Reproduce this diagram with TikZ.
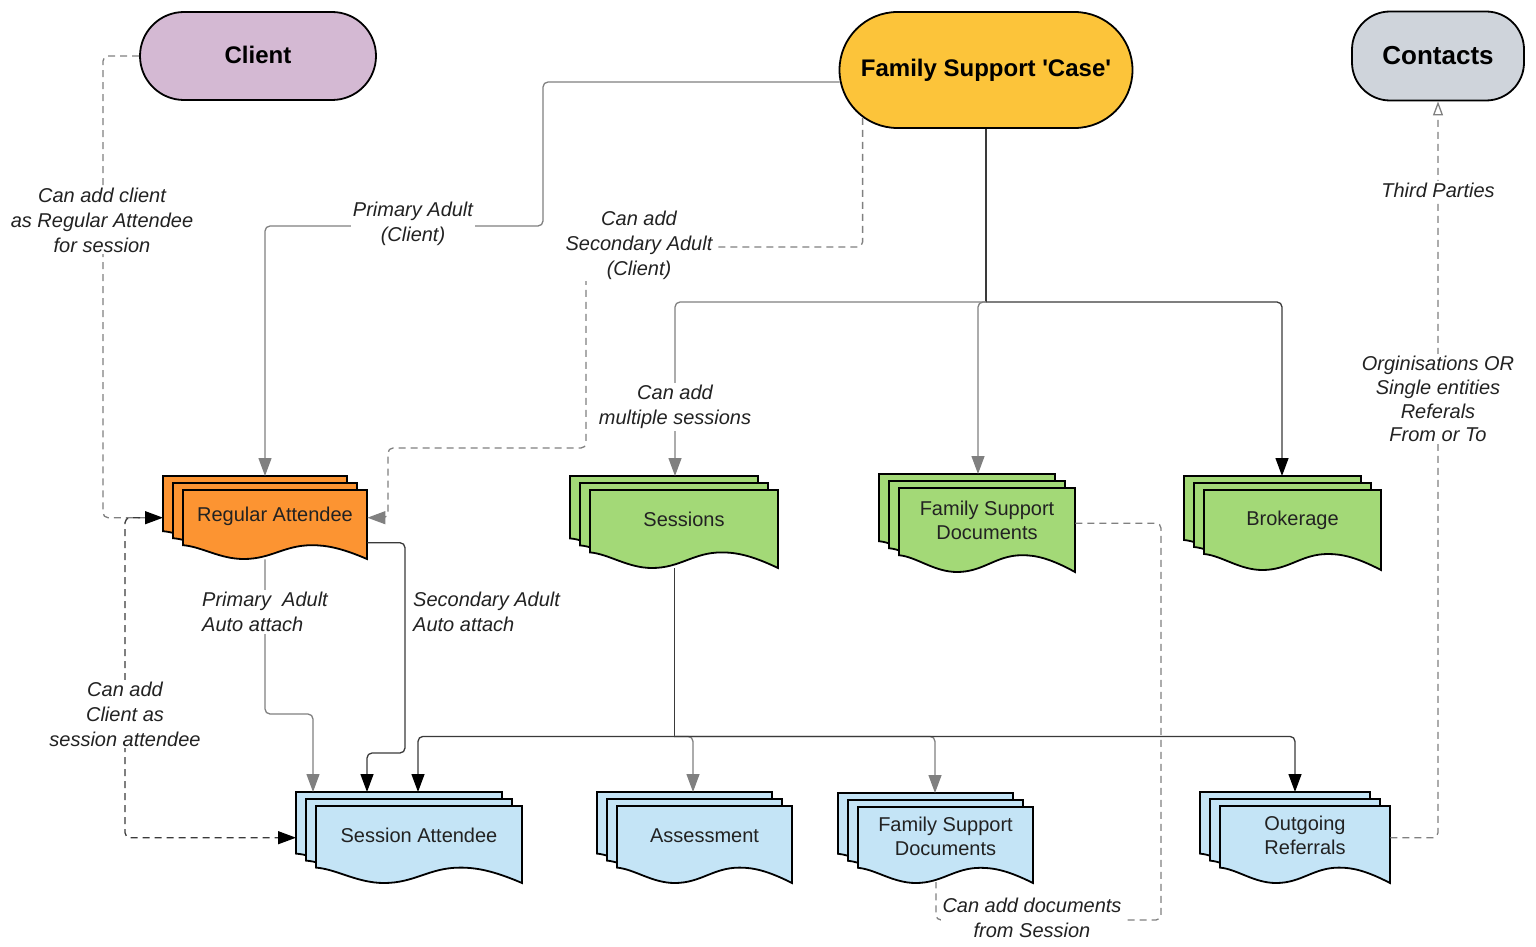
\documentclass[tikz,border=0pt]{standalone}
\usepackage{fontspec}
\setmainfont{Liberation Sans}
\newfontfamily\plainfont{Liberation Sans}
\usetikzlibrary{arrows.meta,calc}
\definecolor{clientc}{HTML}{D4B9D3}
\definecolor{casec}{HTML}{FCC43A}
\definecolor{contc}{HTML}{CFD4DB}
\definecolor{orangec}{HTML}{FC9432}
\definecolor{greenc}{HTML}{A3D977}
\definecolor{bluec}{HTML}{C4E4F6}
\definecolor{lgray}{HTML}{808080}
\definecolor{dgray}{HTML}{3A3A3A}
\definecolor{txt}{HTML}{222222}
\tikzset{
  term/.style={draw=black, line width=1.8pt, text=black, font=\fontsize{24}{28}\selectfont\bfseries},
  docedge/.style={draw=black, line width=1.8pt, line join=miter},
  doctext/.style={font=\fontsize{20}{24}\selectfont, text=txt, align=center},
  gline/.style={draw=lgray, line width=1.3pt, rounded corners=5pt},
  dline/.style={gline, dash pattern=on 7pt off 5pt},
  gtip/.style={-{Triangle[length=18pt,width=13pt]}},
  btip/.style={-{Triangle[length=18pt,width=13pt,color=black]}},
  lbl/.style={font=\fontsize{20}{25}\selectfont\itshape, text=txt, align=center, fill=white, inner sep=2pt}
}
\newcommand\docpage[5]{%
  \filldraw[docedge, fill=#5] ({#1},{#2}) -- ({#1+#3},{#2}) -- ({#1+#3},{#2+#4})
   .. controls ({#1+0.86*#3},{#2+0.84*#4}) and ({#1+0.78*#3},{#2+0.8*#4}) .. ({#1+0.7*#3},{#2+0.8*#4})
   .. controls ({#1+0.55*#3},{#2+0.8*#4}) and ({#1+0.48*#3},{#2+#4}) .. ({#1+0.33*#3},{#2+#4})
   .. controls ({#1+0.2*#3},{#2+#4}) and ({#1+0.1*#3},{#2+0.82*#4}) .. ({#1},{#2+0.8*#4}) -- cycle;}
\newcommand\docstack[7]{%
  \docpage{#2}{#3}{#4}{#5}{#6}
  \docpage{#2+10}{#3+7}{#4}{#5}{#6}
  \docpage{#2+20}{#3+14}{#4}{#5}{#6}
  \node[inner sep=0pt, minimum width={#4pt+20pt}, minimum height={#5pt+14pt}, anchor=north west] (#1) at ({#2},{#3}) {};
  \node[doctext] at ({#2+20+#4/2},{#3+14+0.38*#5}) {#7};}
\begin{document}
\begin{tikzpicture}[x=1pt,y=-1pt]
\useasboundingbox (0,0) rectangle (1536,947);

% terminals
\node[term, fill=clientc, minimum width=236pt, minimum height=88pt, rounded corners=44pt] (client) at (258,56) {\raisebox{2pt}{Client}};
\node[term, fill=casec, minimum width=293pt, minimum height=116pt, rounded corners=58pt] (case) at (986,70) {\raisebox{2pt}{\plainfont Family Support 'Case'}};
\node[term, fill=contc, minimum width=172pt, minimum height=89pt, rounded corners=38pt, font=\fontsize{26}{30}\selectfont\bfseries] (contacts) at (1438,56) {\raisebox{2pt}{Contacts}};

% document stacks
\docstack{ra}{163}{476}{184}{69}{orangec}{Regular Attendee}
\docstack{ses}{570}{476}{188}{78}{greenc}{Sessions}
\docstack{fsd}{879}{474}{176}{84}{greenc}{Family Support\\Documents}
\docstack{bro}{1184}{476}{177}{80}{greenc}{Brokerage}
\docstack{sa}{296}{792}{206}{77}{bluec}{Session Attendee}
\docstack{as}{597}{792}{175}{77}{bluec}{Assessment}
\docstack{fsdb}{838}{793}{175}{76}{bluec}{Family Support\\Documents}
\docstack{or}{1200}{792}{170}{77}{bluec}{Outgoing\\Referrals}

% case -> regular attendee
\draw[gline, gtip] ($(case.west)+(1,12)$) -| (543,226) -| ($(ra.north west)+(102,0)$);
% case -> regular attendee (secondary, dashed)
\draw[dline, gtip] ($(case.south west)+(24,-11)$) |- (586,247) |- (388,448) |- (ra.east);
% client -> regular attendee
\draw[dline, btip] (client.west) -| (103,300) |- (ra.west);
% client -> session attendee
\coordinate (br) at ($(ra.west)+(-23,0)$);
\draw[dline, draw=dgray, btip] (br) -| (125,700) |- (sa.west);
% regular attendee -> session attendee
\draw[gline, gtip] ($(ra.south west)+(102,0)$) |- (313,714) -- ($(sa.north west)+(17,0)$);
\draw[gline, draw=dgray, btip] ($(ra.east)+(0,25)$) -| (405,753) -| ($(sa.north west)+(71,0)$);
% case -> sessions / documents / brokerage
\coordinate (hub) at (986,302);
\draw[gline, draw=dgray] (case.south) -- (hub);
\draw[gline, gtip] (hub) -| ($(ses.north west)+(105,0)$);
\draw[gline, gtip] (hub) -| ($(fsd.north west)+(99,0)$);
\draw[gline, draw=dgray, btip] (hub) -| ($(bro.north west)+(98,0)$);
% sessions -> bottom row
\coordinate (hub2) at ($(ses.south)+(0,168)$);
\draw[gline, draw=dgray] (ses.south) -- (hub2);
\draw[gline, draw=dgray, btip] (hub2) -| ($(sa.north west)+(122,0)$);
\draw[gline, gtip] (hub2) -| ($(as.north west)+(96,0)$);
\draw[gline, gtip] (hub2) -| ($(fsdb.north west)+(97,0)$);
\draw[gline, draw=dgray, btip] (hub2) -| ($(or.north west)+(95,0)$);
% documents -> documents (dashed)
\draw[dline] (fsd.east) -| (1161,920) -| ($(fsdb.north west)+(98,89)$);
% outgoing referrals -> contacts
\draw[dline, -{Triangle[open,length=14pt,width=10pt]}] (or.east) -| (contacts.south);

% labels
\node[lbl] at (413,224) {Primary Adult\\(Client)};
\node[lbl] at (639,245) {Can add\\Secondary Adult\\(Client)};
\node[lbl] at (102,220) {Can add client\\as Regular Attendee\\for session};
\node[lbl] at (675,407) {Can add\\multiple sessions};
\node[lbl, align=left] at (265,612) {Primary\ \ Adult\\Auto attach};
\node[lbl, align=left, anchor=west, fill=none] at (411,612) {Secondary Adult\\Auto attach};
\node[lbl] at (125,714) {Can add\\Client as\\session attendee};
\node[lbl] at (1032,918) {Can add documents\\from Session};
\node[lbl] at (1438,190) {Third Parties};
\node[lbl, font=\fontsize{20}{23.7}\selectfont\itshape] at (1438,399) {Orginisations OR\\Single entities\\Referals\\From or To};
\end{tikzpicture}
\end{document}
